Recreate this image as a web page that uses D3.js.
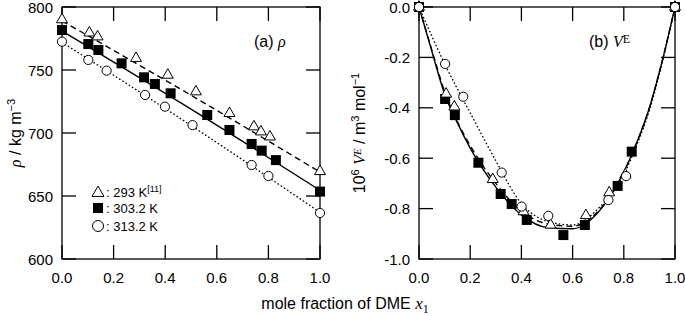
<!DOCTYPE html>
<html>
<head>
<meta charset="utf-8">
<script src="https://cdn.jsdelivr.net/npm/d3@7"></script>
<style>
    body { margin: 0; background: #fff; }
    text { font-family: "Liberation Sans", Arial, sans-serif; fill: #000; }
    .serif { font-family: "Liberation Serif", "Times New Roman", serif; }
    .frame { fill: none; stroke: #000; stroke-width: 1.3; }
    .tick { stroke: #000; stroke-width: 1.3; }
    .fit { fill: none; stroke: #000; stroke-width: 1.4; }
</style>
</head>
<body>
<script>
// panel (a): density, kg m-3
const rhoTicks = [600, 650, 700, 750, 800]
const rho293 = [[0.0, 790], [0.106, 779.5], [0.138, 776.4], [0.287, 759.3], [0.41, 746], [0.519, 732.8],
    [0.649, 715.6], [0.744, 705], [0.771, 701], [0.806, 697], [1.0, 669.5]]
const rho303 = [[0.0, 781.7], [0.102, 770.6], [0.141, 765.9], [0.231, 755.3], [0.318, 744.2], [0.36, 738.9],
    [0.421, 731.5], [0.563, 714.3], [0.649, 702.4], [0.735, 691.3], [0.774, 686], [0.829, 678.5], [1.0, 653.5]]
const rho313 = [[0.0, 772.5], [0.102, 758], [0.173, 749.5], [0.322, 730.2], [0.399, 720.9], [0.506, 706.3],
    [0.735, 674.6], [0.80, 665.9], [1.0, 636.5]]
const rhoFit293 = [[0.0, 789], [0.5, 730], [1.0, 669]]
const rhoFit303 = [[0.0, 781], [0.5, 719], [1.0, 654.5]]
const rhoFit313 = [[0.0, 772], [0.5, 706], [1.0, 637]]

// panel (b): excess molar volume, 10^6 m3 mol-1
const veTicks = [-1.0, -0.8, -0.6, -0.4, -0.2, 0.0]
const ve293 = [[0.0, 0], [0.106, -0.345], [0.138, -0.396], [0.288, -0.684], [0.408, -0.812], [0.514, -0.865],
    [0.652, -0.827], [0.743, -0.737], [0.806, -0.665], [1.0, 0]]
const ve303 = [[0.0, 0], [0.102, -0.365], [0.14, -0.429], [0.232, -0.618], [0.319, -0.742], [0.362, -0.782],
    [0.421, -0.845], [0.564, -0.905], [0.648, -0.865], [0.776, -0.71], [0.831, -0.574], [1.0, 0]]
const ve313 = [[0.0, 0], [0.102, -0.226], [0.173, -0.356], [0.323, -0.657], [0.401, -0.792], [0.505, -0.829],
    [0.74, -0.766], [0.809, -0.671], [1.0, 0]]
const fitX = [0, 0.05, 0.1, 0.15, 0.2, 0.3, 0.4, 0.5, 0.6, 0.7, 0.8, 0.85, 0.9, 0.95, 1]
const veFit293 = [0, -0.17, -0.335, -0.455, -0.55, -0.70, -0.81, -0.86, -0.87, -0.81, -0.655, -0.54, -0.40, -0.215, 0]
const veFit303 = [0, -0.175, -0.345, -0.46, -0.56, -0.715, -0.825, -0.875, -0.88, -0.815, -0.655, -0.54, -0.40, -0.215, 0]
const veFit313 = [0, -0.115, -0.225, -0.325, -0.42, -0.61, -0.78, -0.85, -0.865, -0.80, -0.665, -0.55, -0.41, -0.22, 0]

const xTicks = [0.0, 0.2, 0.4, 0.6, 0.8, 1.0]

const WIDTH = 685
const HEIGHT = 316
const TICK = 14
const DOTS = "0.4,3.4"

const svg = d3.select("body")
    .append("svg")
    .attr("width", WIDTH)
    .attr("height", HEIGHT)

function panel(box, yDomain, yTicks, yFmt) {
    const g = svg.append("g")
    const x = d3.scaleLinear().domain([0, 1]).range([box.left, box.right])
    const y = d3.scaleLinear().domain(yDomain).range([box.bottom, box.top])

    g.append("rect")
        .attr("class", "frame")
        .attr("x", box.left)
        .attr("y", box.top)
        .attr("width", box.right - box.left)
        .attr("height", box.bottom - box.top)

    // inward ticks on all four sides
    xTicks.forEach(t => {
        g.append("line").attr("class", "tick")
            .attr("x1", x(t)).attr("x2", x(t))
            .attr("y1", box.bottom).attr("y2", box.bottom - TICK)
        g.append("line").attr("class", "tick")
            .attr("x1", x(t)).attr("x2", x(t))
            .attr("y1", box.top).attr("y2", box.top + TICK)
        g.append("text")
            .attr("x", x(t))
            .attr("y", box.bottom + 24)
            .attr("text-anchor", "middle")
            .style("font-size", "15px")
            .text(d3.format(".1f")(t))
    })
    yTicks.forEach(t => {
        g.append("line").attr("class", "tick")
            .attr("x1", box.left).attr("x2", box.left + TICK)
            .attr("y1", y(t)).attr("y2", y(t))
        g.append("line").attr("class", "tick")
            .attr("x1", box.right).attr("x2", box.right - TICK)
            .attr("y1", y(t)).attr("y2", y(t))
        g.append("text")
            .attr("x", box.left - 9)
            .attr("y", y(t) + 5.5)
            .attr("text-anchor", "end")
            .style("font-size", "15px")
            .text(yFmt(t).replace("\u2212", "-"))
    })
    return { g, x, y }
}

function drawFit(p, pts, dash, width) {
    p.g.append("path")
        .datum(pts)
        .attr("class", "fit")
        .attr("stroke-dasharray", dash)
        .attr("stroke-width", width)
        .attr("stroke-linecap", dash === DOTS ? "round" : "butt")
        .attr("d", d3.line().x(d => p.x(d[0])).y(d => p.y(d[1])).curve(d3.curveMonotoneX))
}

function drawMarks(p, sq, ci, tri) {
    p.g.selectAll(null)
        .data(sq)
        .enter()
        .append("rect")
        .attr("x", d => p.x(d[0]) - 5)
        .attr("y", d => p.y(d[1]) - 5)
        .attr("width", 10)
        .attr("height", 10)
        .attr("fill", "#000")
    p.g.selectAll(null)
        .data(tri)
        .enter()
        .append("path")
        .attr("transform", d => "translate(" + p.x(d[0]) + "," + p.y(d[1]) + ")")
        .attr("d", d3.symbol(d3.symbolTriangle, 52))
        .attr("fill", "#fff")
        .attr("stroke", "#000")
        .attr("stroke-width", 1)
    p.g.selectAll(null)
        .data(ci)
        .enter()
        .append("circle")
        .attr("cx", d => p.x(d[0]))
        .attr("cy", d => p.y(d[1]))
        .attr("r", 4.6)
        .attr("fill", "#fff")
        .attr("stroke", "#000")
        .attr("stroke-width", 1)
}

// (a) density
const pa = panel({ left: 62, right: 320, top: 7, bottom: 259 }, [600, 800], rhoTicks, d3.format("d"))
drawFit(pa, rhoFit293, "6,4", 1.3)
drawFit(pa, rhoFit303, null, 1.5)
drawFit(pa, rhoFit313, DOTS, 2.2)
drawMarks(pa, rho303, rho313, rho293)

// (b) excess volume
const pb = panel({ left: 419, right: 675, top: 7, bottom: 259 }, [-1, 0], veTicks, d3.format(".1f"))
drawFit(pb, fitX.map((v, i) => [v, veFit293[i]]), "6,4", 1.3)
drawFit(pb, fitX.map((v, i) => [v, veFit303[i]]), null, 1.5)
drawFit(pb, fitX.map((v, i) => [v, veFit313[i]]), DOTS, 2.2)
drawMarks(pb, ve303, ve313, ve293)

// panel captions
const capA = svg.append("text").attr("x", 254).attr("y", 47).style("font-size", "16px")
capA.append("tspan").text("(a) ")
capA.append("tspan").attr("class", "serif").style("font-style", "italic").text("\u03c1")

const capB = svg.append("text").attr("x", 589).attr("y", 47).style("font-size", "16px")
capB.append("tspan").text("(b) ")
capB.append("tspan").attr("class", "serif").style("font-style", "italic").text("V")
capB.append("tspan").attr("class", "serif").attr("dy", -4).style("font-size", "12px").text("E")

// legend
const legend = [
    { y: 192, label: ": 293 K", sup: "[11]" },
    { y: 208, label: ": 303.2 K" },
    { y: 226, label: ": 313.2 K" }
]
svg.append("path")
    .attr("transform", "translate(98," + (legend[0].y + 1) + ")")
    .attr("d", d3.symbol(d3.symbolTriangle, 62))
    .attr("fill", "#fff").attr("stroke", "#000").attr("stroke-width", 1)
svg.append("rect")
    .attr("x", 93).attr("y", legend[1].y - 5).attr("width", 10).attr("height", 10)
    .attr("fill", "#000")
svg.append("circle")
    .attr("cx", 98).attr("cy", legend[2].y).attr("r", 5.5)
    .attr("fill", "#fff").attr("stroke", "#000").attr("stroke-width", 1)
legend.forEach(d => {
    const t = svg.append("text")
        .attr("x", 106)
        .attr("y", d.y + 5)
        .style("font-size", "13px")
        .text(d.label)
    if (d.sup) t.append("tspan").attr("dy", -5).style("font-size", "9px").text(d.sup)
})

// axis titles
const xt = svg.append("text")
    .attr("x", 345)
    .attr("y", 309)
    .attr("text-anchor", "middle")
    .style("font-size", "16px")
xt.append("tspan").text("mole fraction of DME ")
xt.append("tspan").attr("class", "serif").style("font-style", "italic").style("font-size", "17px").text("x")
xt.append("tspan").attr("class", "serif").attr("dy", 4).style("font-size", "12px").text("1")

const ya = svg.append("text")
    .attr("transform", "translate(21,133) rotate(-90)")
    .attr("text-anchor", "middle")
    .style("font-size", "16px")
ya.append("tspan").attr("class", "serif").style("font-style", "italic").text("\u03c1")
ya.append("tspan").text(" / kg m")
ya.append("tspan").attr("dy", -6).style("font-size", "11px").text("\u22123")

const yb = svg.append("text")
    .attr("transform", "translate(365,133) rotate(-90)")
    .attr("text-anchor", "middle")
    .style("font-size", "16px")
yb.append("tspan").text("10")
yb.append("tspan").attr("dy", -6).style("font-size", "11px").text("6")
yb.append("tspan").attr("dy", 6).text(" ")
yb.append("tspan").attr("class", "serif").style("font-style", "italic").text("V")
yb.append("tspan").attr("class", "serif").style("font-style", "italic").attr("dy", -4).style("font-size", "11px").text("E")
yb.append("tspan").attr("dy", 4).text(" / m")
yb.append("tspan").attr("dy", -6).style("font-size", "11px").text("3")
yb.append("tspan").attr("dy", 6).text(" mol")
yb.append("tspan").attr("dy", -6).style("font-size", "11px").text("\u22121")
</script>
</body>
</html>
